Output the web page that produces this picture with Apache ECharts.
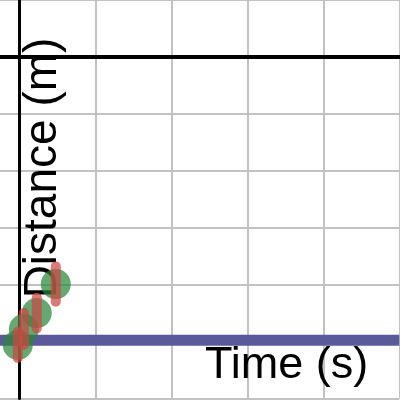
<!DOCTYPE html>
<html>
<head>
<meta charset="utf-8">
<script src="https://cdn.jsdelivr.net/npm/echarts@6/dist/echarts.min.js"></script>
<style>
html,body{margin:0;padding:0;background:#fff;}
#chart{width:400px;height:400px;}
</style>
</head>
<body>
<div id="chart"></div>
<script>
// Data
const timeValues = [0.48, 0.23, 0.06, -0.02];
const distanceValues = [-3.99, -4.50, -4.78, -5.06];
const errorValues = [0.31, 0.27, 0.28, 0.23];
const refLineX = [-1, 5];
const refLineY = [-4.98, -4.98];
const xAxisTitle = 'Time (s)';
const yAxisTitle = 'Distance (m)';

const points = timeValues.map((t, i) => [t, distanceValues[i]]);
const bars = timeValues.map((t, i) => [t, distanceValues[i], errorValues[i]]);
const refLine = refLineX.map((x, i) => [x, refLineY[i]]);

const chart = echarts.init(document.getElementById('chart'), null, {renderer: 'canvas'});
chart.setOption({
  animation: false,
  backgroundColor: '#ffffff',
  grid: {left: -56.7, right: 0.7, top: 0.1, bottom: 1.6, containLabel: false, outerBoundsMode: 'none'},
  xAxis: {
    type: 'value', min: -1, max: 5, interval: 1,
    axisLine: {show: true, onZero: true, lineStyle: {color: '#000', width: 4}},
    axisTick: {show: false}, axisLabel: {show: false},
    splitLine: {show: true, lineStyle: {color: '#c2c2c2', width: 2}}
  },
  yAxis: {
    type: 'value', min: -6, max: 1, interval: 1,
    axisLine: {show: true, onZero: true, lineStyle: {color: '#000', width: 3}},
    axisTick: {show: false}, axisLabel: {show: false},
    splitLine: {show: true, lineStyle: {color: '#c2c2c2', width: 2}}
  },
  graphic: [
    {type: 'text', left: 205, top: 343, z: 1,
     style: {text: xAxisTitle, font: '45px "Liberation Sans", Arial, sans-serif', fill: '#000'}},
    {type: 'text', x: 66, y: 168, rotation: Math.PI / 2, z: 1,
     style: {text: yAxisTitle, font: '46px "Liberation Sans", Arial, sans-serif', fill: '#000',
             align: 'center', verticalAlign: 'bottom'}}
  ],
  series: [
    {type: 'line', data: refLine, symbol: 'none', z: 3,
     lineStyle: {color: 'rgb(90,90,155)', width: 11}},
    {type: 'scatter', data: points, symbol: 'circle', symbolSize: 30, z: 4,
     itemStyle: {color: 'rgba(40,135,60,0.9)'}},
    {type: 'custom', data: bars, z: 5,
     renderItem: function (params, api) {
       const x = api.value(0), y = api.value(1), e = api.value(2);
       const p1 = api.coord([x, y + e]);
       const p2 = api.coord([x, y - e]);
       return {type: 'line', shape: {x1: p1[0], y1: p1[1], x2: p2[0], y2: p2[1]},
               style: {stroke: 'rgba(205,70,66,0.72)', lineWidth: 10, lineCap: 'round'}};
     }}
  ]
});
</script>
</body>
</html>
